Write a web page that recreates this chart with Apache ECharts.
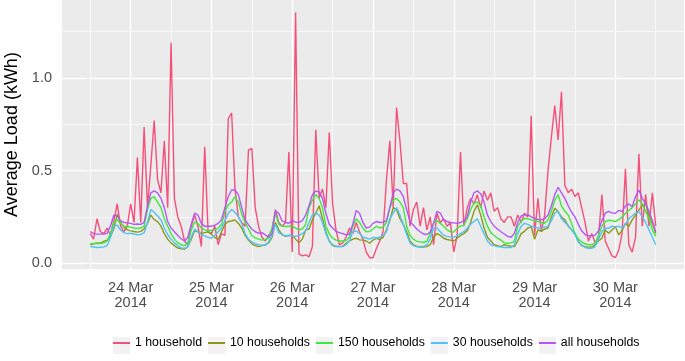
<!DOCTYPE html>
<html>
<head>
<meta charset="utf-8">
<script src="https://cdn.jsdelivr.net/npm/echarts@6/dist/echarts.min.js"></script>
<style>
  html, body { margin: 0; padding: 0; background: #ffffff; }
  #chart { width: 685px; height: 361px; }
</style>
</head>
<body>
<div id="chart"></div>
<script>
///////////////////////////////////////////////////
// Data: hourly readings, hour 0 = 23 Mar 2014 12:00
///////////////////////////////////////////////////
var seriesNames = ['1 household', '10 households', '150 households', '30 households', 'all households'];
var seriesColors = ['#f4507a', '#8a9a14', '#3ee83e', '#4fc3f7', '#b357f5'];

// x tick labels (hours after 23 Mar 12:00 -> midnight of each day)
var dayTicks = [12, 36, 60, 84, 108, 132, 156];
var dayLabels = ['24 Mar\n2014', '25 Mar\n2014', '26 Mar\n2014', '27 Mar\n2014', '28 Mar\n2014', '29 Mar\n2014', '30 Mar\n2014'];
var yTicks = [0, 0.5, 1.0];

var load1House = [
  0.16, 0.13, 0.24, 0.17, 0.16, 0.19, 0.15, 0.23, 0.32, 0.2, 0.17, 0.2,
  0.32, 0.22, 0.57, 0.22, 0.735, 0.3, 0.53, 0.77, 0.45, 0.38, 0.66, 0.3,
  1.19, 0.35, 0.25, 0.2, 0.12, 0.1, 0.2, 0.26, 0.2, 0.09, 0.628, 0.17,
  0.16, 0.2, 0.1, 0.16, 0.15, 0.78, 0.81, 0.4, 0.25, 0.22, 0.2, 0.61,
  0.62, 0.3, 0.2, 0.14, 0.12, 0.15, 0.18, 0.29, 0.22, 0.2, 0.22, 0.6,
  0.06, 1.353, 0.05, 0.04, 0.045, 0.035, 0.09, 0.72, 0.35, 0.4, 0.3, 0.705,
  0.32, 0.18, 0.1, 0.11, 0.14, 0.19, 0.16, 0.22, 0.17, 0.13, 0.06, 0.03,
  0.03, 0.08, 0.12, 0.17, 0.45, 0.66, 0.3, 0.84, 0.66, 0.43, 0.43, 0.2,
  0.29, 0.33, 0.2, 0.3, 0.18, 0.25, 0.1, 0.27, 0.22, 0.24, 0.2, 0.22,
  0.06, 0.15, 0.6, 0.2, 0.3, 0.35, 0.32, 0.37, 0.3, 0.39, 0.34, 0.38,
  0.28, 0.3, 0.24, 0.22, 0.25, 0.25, 0.2, 0.26, 0.22, 0.27, 0.25, 0.795,
  0.15, 0.35, 0.17, 0.26, 0.5, 0.68, 0.85, 0.665, 0.925, 0.42, 0.38, 0.4,
  0.36, 0.38, 0.3, 0.22, 0.12, 0.16, 0.11, 0.14, 0.37, 0.12, 0.08, 0.04,
  0.03, 0.07, 0.16, 0.51, 0.1, 0.06, 0.14, 0.59, 0.2, 0.37, 0.2, 0.38,
  0.2
];
var load10House = [
  0.1, 0.105, 0.11, 0.108, 0.118, 0.125, 0.145, 0.185, 0.265, 0.22, 0.195, 0.18,
  0.175, 0.171, 0.168, 0.172, 0.185, 0.215, 0.26, 0.235, 0.225, 0.2, 0.16, 0.13,
  0.11, 0.095, 0.082, 0.078, 0.076, 0.09, 0.13, 0.175, 0.17, 0.16, 0.165, 0.17,
  0.155, 0.14, 0.128, 0.17, 0.21, 0.225, 0.228, 0.234, 0.215, 0.19, 0.15, 0.125,
  0.105, 0.095, 0.09, 0.095, 0.1, 0.11, 0.14, 0.22, 0.18, 0.155, 0.145, 0.15,
  0.152, 0.13, 0.11, 0.13, 0.18, 0.185, 0.235, 0.27, 0.31, 0.24, 0.17, 0.12,
  0.095, 0.09, 0.09, 0.092, 0.108, 0.12, 0.13, 0.135, 0.126, 0.125, 0.12, 0.108,
  0.125, 0.135, 0.128, 0.14, 0.18, 0.23, 0.3, 0.29, 0.24, 0.21, 0.17, 0.12,
  0.1, 0.09, 0.088, 0.087, 0.09, 0.1, 0.14, 0.16, 0.15, 0.135, 0.128, 0.125,
  0.12, 0.135, 0.15, 0.16, 0.175, 0.22, 0.28, 0.315, 0.26, 0.19, 0.14, 0.12,
  0.1, 0.095, 0.09, 0.1, 0.095, 0.092, 0.09, 0.12, 0.16, 0.172, 0.19, 0.198,
  0.13, 0.18, 0.172, 0.185, 0.19, 0.25, 0.297, 0.279, 0.25, 0.234, 0.2, 0.18,
  0.162, 0.117, 0.095, 0.09, 0.087, 0.087, 0.1, 0.12, 0.135, 0.18, 0.162, 0.18,
  0.198, 0.153, 0.175, 0.216, 0.198, 0.234, 0.26, 0.288, 0.31, 0.324, 0.252, 0.216,
  0.16
];
var load150House = [
  0.107, 0.105, 0.107, 0.106, 0.11, 0.12, 0.16, 0.22, 0.235, 0.215, 0.2, 0.198,
  0.195, 0.19, 0.188, 0.19, 0.2, 0.29, 0.35, 0.36, 0.33, 0.3, 0.24, 0.2,
  0.16, 0.13, 0.11, 0.1, 0.095, 0.11, 0.18, 0.222, 0.215, 0.19, 0.18, 0.175,
  0.178, 0.18, 0.19, 0.21, 0.28, 0.315, 0.33, 0.36, 0.33, 0.265, 0.22, 0.185,
  0.15, 0.137, 0.13, 0.125, 0.128, 0.135, 0.19, 0.27, 0.21, 0.2, 0.198, 0.2,
  0.2, 0.19, 0.18, 0.185, 0.21, 0.3, 0.34, 0.37, 0.35, 0.3, 0.2, 0.16,
  0.135, 0.125, 0.12, 0.12, 0.122, 0.14, 0.2, 0.24, 0.22, 0.19, 0.17, 0.172,
  0.185, 0.2, 0.19, 0.195, 0.22, 0.3, 0.34, 0.35, 0.33, 0.3, 0.2, 0.15,
  0.13, 0.118, 0.115, 0.112, 0.12, 0.16, 0.22, 0.23, 0.215, 0.2, 0.18, 0.17,
  0.168, 0.19, 0.2, 0.205, 0.24, 0.29, 0.325, 0.33, 0.31, 0.25, 0.2, 0.165,
  0.15, 0.135, 0.125, 0.11, 0.108, 0.11, 0.118, 0.2, 0.225, 0.243, 0.24, 0.234,
  0.23, 0.225, 0.22, 0.216, 0.235, 0.28, 0.34, 0.37, 0.31, 0.28, 0.26, 0.215,
  0.16, 0.13, 0.115, 0.105, 0.1, 0.1, 0.108, 0.15, 0.2, 0.225, 0.232, 0.23,
  0.225, 0.235, 0.25, 0.27, 0.285, 0.3, 0.32, 0.342, 0.32, 0.28, 0.24, 0.18,
  0.145
];
var load30House = [
  0.09, 0.088, 0.085, 0.086, 0.088, 0.095, 0.14, 0.2, 0.205, 0.18, 0.165, 0.16,
  0.162, 0.158, 0.153, 0.155, 0.165, 0.22, 0.29, 0.275, 0.255, 0.235, 0.19, 0.155,
  0.13, 0.11, 0.095, 0.083, 0.08, 0.09, 0.14, 0.185, 0.17, 0.155, 0.148, 0.14,
  0.135, 0.15, 0.17, 0.19, 0.23, 0.27, 0.29, 0.275, 0.25, 0.215, 0.16, 0.13,
  0.115, 0.105, 0.1, 0.098, 0.097, 0.115, 0.15, 0.21, 0.165, 0.155, 0.148, 0.15,
  0.148, 0.145, 0.15, 0.16, 0.175, 0.22, 0.26, 0.27, 0.26, 0.22, 0.16, 0.12,
  0.1, 0.092, 0.09, 0.09, 0.1, 0.12, 0.17, 0.175, 0.16, 0.14, 0.135, 0.13,
  0.14, 0.135, 0.14, 0.15, 0.17, 0.24, 0.27, 0.3, 0.26, 0.21, 0.155, 0.11,
  0.095, 0.09, 0.09, 0.09, 0.1, 0.13, 0.19, 0.19, 0.17, 0.15, 0.145, 0.142,
  0.14, 0.15, 0.16, 0.17, 0.19, 0.21, 0.225, 0.24, 0.2, 0.16, 0.12, 0.1,
  0.095, 0.09, 0.088, 0.085, 0.085, 0.085, 0.1, 0.16, 0.2, 0.215, 0.21, 0.2,
  0.195, 0.19, 0.19, 0.195, 0.2, 0.23, 0.27, 0.28, 0.24, 0.22, 0.205, 0.18,
  0.155, 0.115, 0.1, 0.085, 0.08, 0.08, 0.09, 0.13, 0.17, 0.19, 0.188, 0.2,
  0.195, 0.2, 0.19, 0.21, 0.24, 0.255, 0.27, 0.28, 0.25, 0.22, 0.18, 0.14,
  0.1
];
var loadAllHouse = [
  0.17, 0.16, 0.157, 0.157, 0.158, 0.162, 0.2, 0.26, 0.255, 0.228, 0.22, 0.218,
  0.215, 0.21, 0.212, 0.21, 0.22, 0.31, 0.38, 0.39, 0.38, 0.35, 0.3, 0.225,
  0.19, 0.17, 0.15, 0.132, 0.12, 0.14, 0.21, 0.27, 0.26, 0.215, 0.2, 0.2,
  0.2, 0.205, 0.215, 0.235, 0.3, 0.36, 0.395, 0.395, 0.37, 0.3, 0.235, 0.207,
  0.185, 0.17, 0.162, 0.165, 0.153, 0.142, 0.16, 0.28, 0.27, 0.228, 0.22, 0.216,
  0.23, 0.222, 0.22, 0.23, 0.26, 0.31, 0.37, 0.39, 0.385, 0.35, 0.27, 0.21,
  0.19, 0.172, 0.165, 0.16, 0.153, 0.158, 0.21, 0.285, 0.27, 0.22, 0.19, 0.195,
  0.215, 0.225, 0.22, 0.222, 0.23, 0.3, 0.38, 0.4, 0.39, 0.36, 0.29, 0.225,
  0.205, 0.185, 0.17, 0.158, 0.155, 0.168, 0.215, 0.28, 0.27, 0.235, 0.225, 0.22,
  0.218, 0.216, 0.22, 0.228, 0.25, 0.33, 0.38, 0.39, 0.375, 0.33, 0.26, 0.225,
  0.2, 0.185, 0.17, 0.158, 0.145, 0.14, 0.16, 0.22, 0.255, 0.262, 0.262, 0.25,
  0.243, 0.236, 0.234, 0.24, 0.26, 0.31, 0.37, 0.41, 0.38, 0.35, 0.31, 0.275,
  0.25, 0.21, 0.175, 0.155, 0.148, 0.148, 0.152, 0.175, 0.23, 0.27, 0.28, 0.272,
  0.27, 0.285, 0.278, 0.31, 0.32, 0.305, 0.36, 0.395, 0.35, 0.32, 0.28, 0.23,
  0.17
];
var seriesValues = [load1House, load10House, load150House, load30House, loadAllHouse];

///////////////////////////////////////////////////
// Chart
///////////////////////////////////////////////////
var chart = echarts.init(document.getElementById('chart'), null, { renderer: 'canvas' });

// ggplot style panel grid, drawn through the axes
var gridLines = [];
[0, 0.5, 1.0].forEach(function (v) {
  gridLines.push({ yAxis: v, lineStyle: { width: 1.3 } });
});
[0.25, 0.75, 1.25].forEach(function (v) {
  gridLines.push({ yAxis: v, lineStyle: { width: 0.7 } });
});
dayTicks.forEach(function (v) {
  gridLines.push({ xAxis: v, lineStyle: { width: 1.3 } });
  gridLines.push({ xAxis: v - 12, lineStyle: { width: 0.7 } });
});
gridLines.push({ xAxis: dayTicks[dayTicks.length - 1] + 12, lineStyle: { width: 0.7 } });

var series = [{
  type: 'line',
  data: [],
  silent: true,
  markLine: {
    silent: true,
    symbol: 'none',
    z: 1,
    animation: false,
    label: { show: false },
    lineStyle: { color: '#ffffff', type: 'solid', opacity: 1 },
    emphasis: { disabled: true },
    data: gridLines
  }
}];
seriesNames.forEach(function (name, k) {
  series.push({
    name: name,
    type: 'line',
    z: 2,
    showSymbol: false,
    silent: true,
    animation: false,
    itemStyle: { color: seriesColors[k] },
    lineStyle: { color: seriesColors[k], width: 1.4 },
    emphasis: { disabled: true },
    data: seriesValues[k].map(function (v, i) { return [i, v]; })
  });
});

var legendBase = {
  data: seriesNames,
  left: 113,
  top: 337,
  padding: 0,
  orient: 'horizontal',
  itemWidth: 17,
  itemHeight: 17,
  itemGap: 6,
  selectedMode: false,
  textStyle: { fontSize: 12.3, color: '#000000' }
};

var option = {
  animation: false,
  backgroundColor: '#ffffff',
  textStyle: { fontFamily: 'Liberation Sans, Arial, sans-serif' },
  grid: {
    left: 62,
    right: 1,
    top: 0,
    bottom: 92,
    outerBoundsMode: 'none',
    containLabel: false,
    show: true,
    backgroundColor: '#ebebeb',
    borderWidth: 0
  },
  xAxis: {
    type: 'value',
    min: -8.4,
    max: 176.4,
    axisLine: { show: false },
    splitLine: { show: false },
    axisTick: {
      show: true,
      customValues: dayTicks,
      length: 4,
      lineStyle: { color: '#333333', width: 1.1 }
    },
    axisLabel: {
      customValues: dayTicks,
      color: '#4d4d4d',
      fontSize: 14.5,
      lineHeight: 15,
      margin: 11,
      formatter: function (v) {
        var k = dayTicks.indexOf(v);
        return k >= 0 ? dayLabels[k] : '';
      }
    }
  },
  yAxis: {
    type: 'value',
    min: -0.031,
    max: 1.42,
    name: 'Average Load (kWh)',
    nameLocation: 'middle',
    nameGap: 36,
    nameTextStyle: { fontSize: 18, color: '#000000' },
    axisLine: { show: false },
    splitLine: { show: false },
    axisTick: {
      show: true,
      customValues: yTicks,
      length: 4,
      lineStyle: { color: '#333333', width: 1.1 }
    },
    axisLabel: {
      customValues: yTicks,
      color: '#4d4d4d',
      fontSize: 14.5,
      margin: 10,
      formatter: function (v) { return v.toFixed(1); }
    }
  },
  legend: [
    Object.assign({}, legendBase, {
      icon: 'rect',
      itemStyle: { color: '#f2f2f2', borderWidth: 0 },
      textStyle: { fontSize: 12.3, color: 'rgba(0,0,0,0)' }
    }),
    Object.assign({}, legendBase, {
      icon: 'path://M0,7.5L17,7.5L17,9.5L0,9.5Z',
      itemStyle: { borderWidth: 0 }
    })
  ],
  series: series
};

chart.setOption(option);
</script>
</body>
</html>
